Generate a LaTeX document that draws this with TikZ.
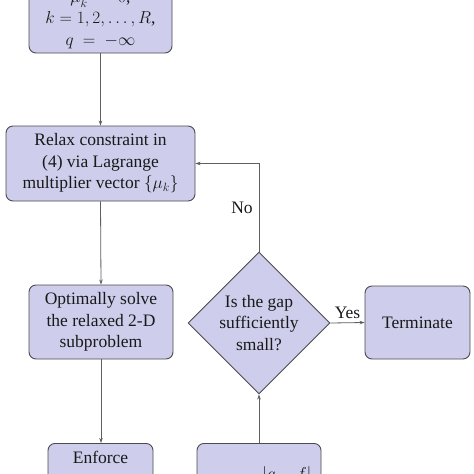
\documentclass[tikz,border=0pt]{standalone}
\usepackage{amsmath}
\usepackage{fontspec}
\setmainfont{Liberation Serif}
\usetikzlibrary{arrows.meta,shapes.geometric}
\definecolor{boxfill}{RGB}{206,206,236}
\definecolor{boxline}{RGB}{75,75,80}
\definecolor{arrline}{RGB}{95,95,95}
\tikzset{
  procbox/.style={draw=boxline, fill=boxfill, line width=0.9pt, rounded corners=7pt,
    align=center, inner sep=0pt, font=\fontsize{17.5}{21.5}\selectfont, text=black!90},
  decbox/.style={draw=boxline, fill=boxfill, line width=0.9pt, diamond, aspect=1,
    align=center, inner sep=0pt, minimum width=142pt, minimum height=142pt,
    font=\fontsize{17.5}{21.5}\selectfont, text=black!90},
  conn/.style={draw=arrline, line width=0.8pt, -{Stealth[length=5pt,width=3.5pt]}},
  lbl/.style={font=\fontsize{17.5}{21.5}\selectfont, text=black!90, inner sep=0pt}
}
\begin{document}
\begin{tikzpicture}[x=1pt,y=-1pt]
\useasboundingbox (0,0) rectangle (474,474);
\clip (0,0) rectangle (474,474);
\fill[white] (0,0) rectangle (474,474);

\node[procbox, minimum width=143pt, minimum height=73pt] (init) at (100.5,16.5)
  {$\mu_k^{(0)} = 0$,\\ $k = 1, 2, \ldots, R$,\\ $q\ =\ -\infty$};
\node[procbox, minimum width=189pt, minimum height=75pt] (relax) at (100.5,163.5)
  {Relax constraint in\\ (4) via Lagrange\\ multiplier vector $\{\mu_k\}$};
\node[procbox, minimum width=144pt, minimum height=74pt] (solve) at (101,322)
  {Optimally solve\\ the relaxed 2-D\\ subproblem};
\node[procbox, minimum width=105pt, minimum height=74pt, anchor=north] (enforce) at (100.5,443)
  {};
\node[lbl, anchor=base] (enftxt) at (100.5,463) {Enforce};
\node[decbox] (gap) at (259,323) {Is the gap\\ sufficiently\\ small?};
\node[procbox, minimum width=105pt, minimum height=73pt] (term) at (417.5,322.5) {Terminate};
\node[procbox, minimum width=124pt, minimum height=74pt, anchor=north] (update) at (259,443) {};
\node[lbl, anchor=north] (updtxt) at (287,466.5) {$\dfrac{|q-f|}{|f|}$};

\draw[conn] (init.south) -- (relax.north);
\draw[conn] (relax.south) -- (solve.south |- solve.north);
\draw[conn] (solve.south) -- (enforce.north -| solve.south);
\draw[conn] (update.north) -- (gap.south);
\draw[conn] (gap.east) -- node[lbl, above=4pt] (yes) {Yes} (term.west);
\draw[conn] (gap.north) -- (gap.north |- relax.east) -- (relax.east);
\node[lbl] (no) at (242,208) {No};
\end{tikzpicture}
\end{document}
